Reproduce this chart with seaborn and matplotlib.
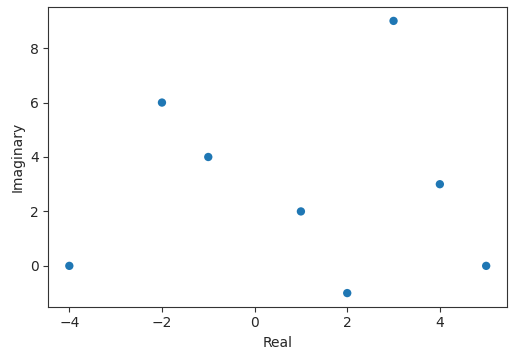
import matplotlib
matplotlib.use("Agg")
import matplotlib.pyplot as plt
import seaborn as sns
import pandas as pd

real = [-4, -2, -1, 1, 2, 3, 4, 5]
imaginary = [0, 6, 4, 2, -1, 9, 3, 0]

sns.set_style("ticks")
plt.rcParams['font.family'] = ['DejaVu Sans']
plt.rcParams['font.size'] = 10

df = pd.DataFrame({"Real": real, "Imaginary": imaginary})

fig = plt.figure(figsize=(5.18, 3.59), dpi=100)
ax = fig.add_axes([0.0936, 0.1457, 0.8852, 0.834])
sns.scatterplot(data=df, x="Real", y="Imaginary", ax=ax, color="#1f77b4",
                s=36, edgecolor="none", linewidth=0)
ax.set_xticks([-4, -2, 0, 2, 4])
ax.set_yticks([0, 2, 4, 6, 8])
for s in ax.spines.values():
    s.set_color("#333333")
    s.set_linewidth(0.8)
ax.tick_params(colors="#333333", labelcolor="#262626", width=0.8, length=3.5, labelsize=10)
ax.xaxis.label.set_color("#262626")
ax.yaxis.label.set_color("#262626")
fig.savefig("out.png", dpi=100)
